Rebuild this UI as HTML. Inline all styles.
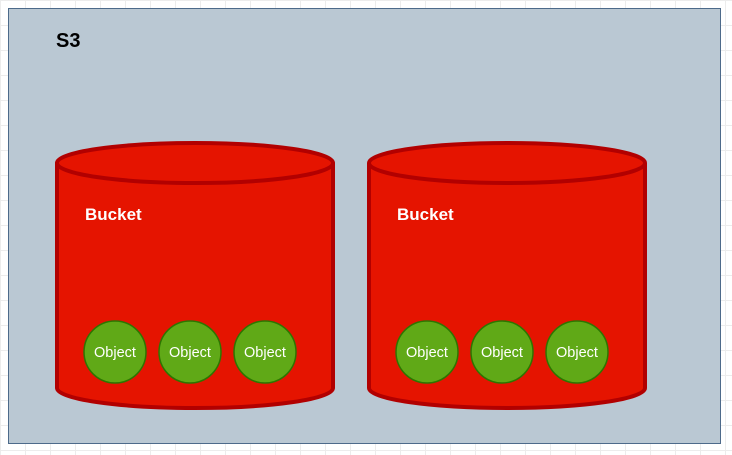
<!DOCTYPE html>
<html><head><style>
html,body{margin:0;padding:0;width:732px;height:455px;overflow:hidden;background:#fff;
background-image:linear-gradient(#ececec 1px,transparent 1px),linear-gradient(90deg,#ececec 1px,transparent 1px);background-size:25px 25px;}
</style></head><body>
<svg width="732" height="455" style="position:absolute;left:0;top:0" font-family="Liberation Sans, sans-serif">
<rect x="8.5" y="8.5" width="712" height="435" fill="#bac8d3" stroke="#4d6a8a" stroke-width="1"/>
<text x="56" y="47" font-size="20" font-weight="bold" fill="#000">S3</text>
<g id="c1">
<path d="M57,163 L57,388 A138,20 0 0 0 333,388 L333,163" fill="#e51400" stroke="#b20000" stroke-width="4"/>
<ellipse cx="195" cy="163" rx="138" ry="20" fill="#e51400" stroke="#b20000" stroke-width="4"/>
<text x="85" y="220" font-size="17" font-weight="bold" fill="#fff">Bucket</text>
<g fill="#60a917" stroke="#2d7600" stroke-width="1.5">
<circle cx="115" cy="352" r="31"/><circle cx="190" cy="352" r="31"/><circle cx="265" cy="352" r="31"/>
</g>
<g fill="#fff" font-size="14.5" text-anchor="middle">
<text x="115" y="357">Object</text><text x="190" y="357">Object</text><text x="265" y="357">Object</text>
</g>
</g>
<use href="#c1" x="312"/>
</svg>
</body></html>
